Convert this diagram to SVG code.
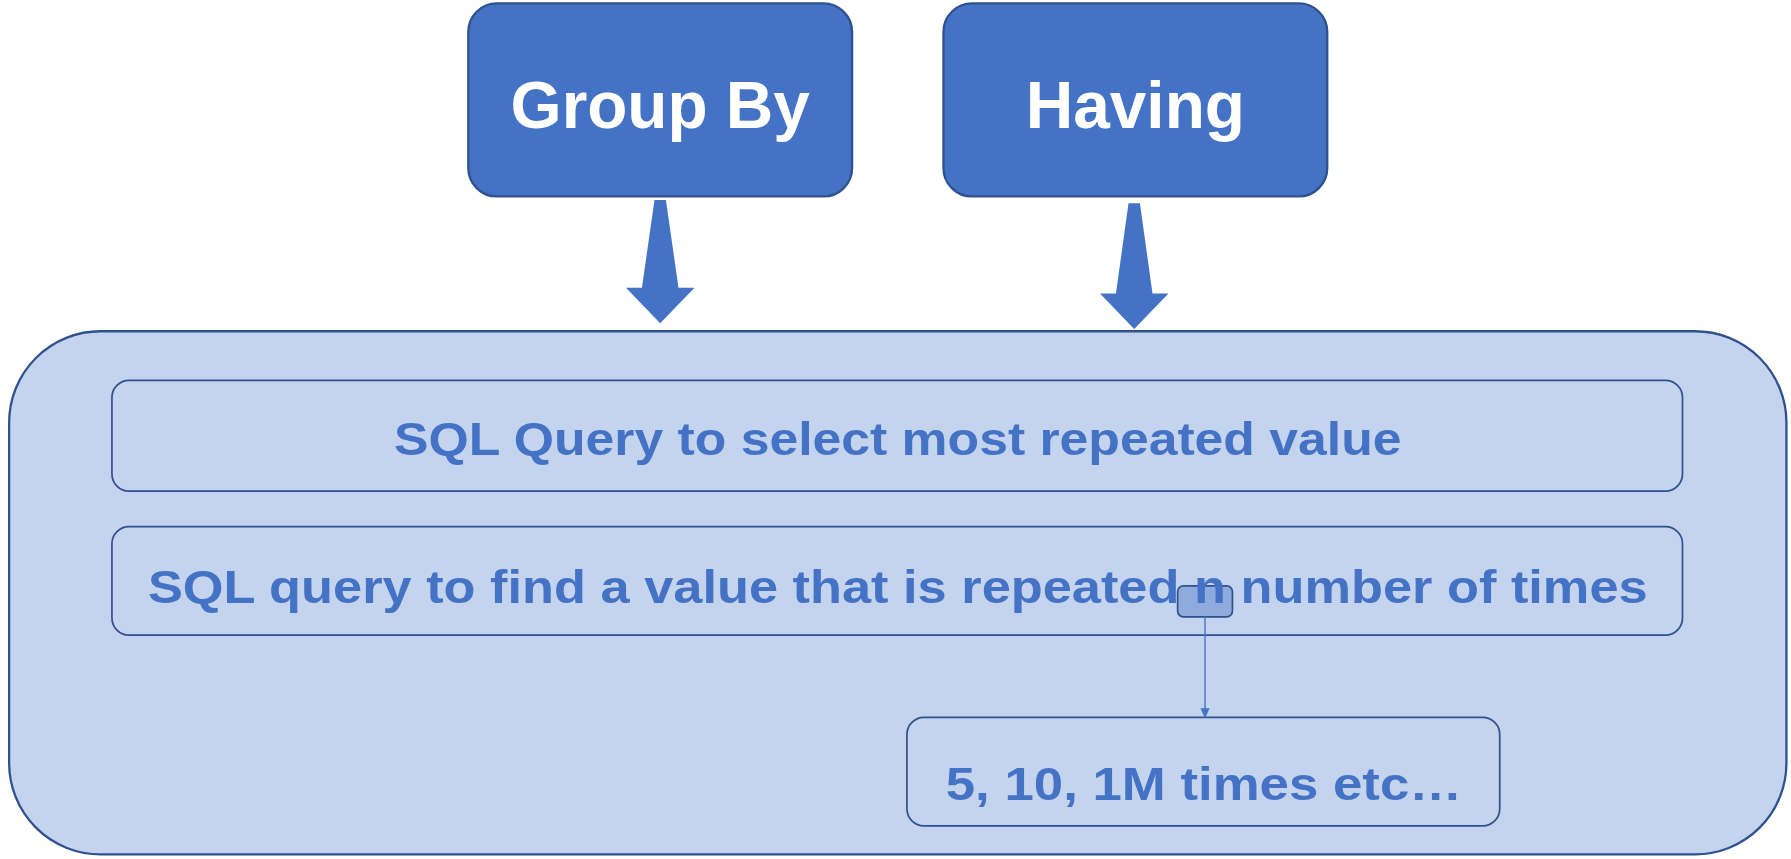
<svg xmlns="http://www.w3.org/2000/svg" width="1791" height="859" viewBox="0 0 1791 859">
<style>
.top{fill:#4472c4;stroke:#2f528f;stroke-width:2}
.inner{fill:none;stroke:#2f528f;stroke-width:1.5}
.t{font-family:"Liberation Sans",Arial,sans-serif;font-weight:bold}
.w{fill:#fff;font-size:58px}
.b{fill:#4472c4;font-size:40px}
.arr{fill:#4472c4}
</style>
<rect width="1791" height="859" fill="#fff"/>
<g transform="scale(1.14222)">
<g id="container"><rect x="8" y="290" width="1556" height="458" rx="80" fill="#c5d4ee" stroke="#2f528f" stroke-width="2"/></g>
<g id="groupby"><rect class="top" x="410" y="3" width="336" height="169" rx="25"/><text class="t w" x="578" y="112" text-anchor="middle" textLength="262" lengthAdjust="spacingAndGlyphs">Group By</text></g>
<g id="having"><rect class="top" x="826" y="3" width="336" height="169" rx="25"/><text class="t w" x="994" y="112" text-anchor="middle" textLength="192" lengthAdjust="spacingAndGlyphs">Having</text></g>
<g id="box1"><rect class="inner" x="98" y="333" width="1375" height="97" rx="15"/><text class="t b" x="786" y="398" text-anchor="middle" textLength="882" lengthAdjust="spacingAndGlyphs">SQL Query to select most repeated value</text></g>
<g id="box2"><rect class="inner" x="98" y="461" width="1375" height="95" rx="15"/><rect x="1031" y="513" width="48" height="27" rx="5" fill="#8faadc" stroke="#2f528f" stroke-width="1.5"/><text class="t b" x="786" y="528" text-anchor="middle" textLength="1313" lengthAdjust="spacingAndGlyphs">SQL query to find a value that is repeated n number of times</text></g>
<g id="box3"><rect class="inner" x="794" y="628" width="519" height="95" rx="15"/><text class="t b" x="1054" y="700" text-anchor="middle" textLength="452" lengthAdjust="spacingAndGlyphs">5, 10, 1M times etc…</text></g>
<g id="connectors">
<polygon class="arr" points="573,175 583,175 594,252 608,252 578,283 548,252 562,252"/>
<polygon class="arr" points="988,178 998,178 1009,257 1023,257 993,288 963,257 977,257"/>
<line x1="1055" y1="540" x2="1055" y2="622" stroke="#4472c4" stroke-width="1.2"/>
<polygon class="arr" points="1051,620 1059,620 1055,629"/>
</g>
</g>
</svg>
